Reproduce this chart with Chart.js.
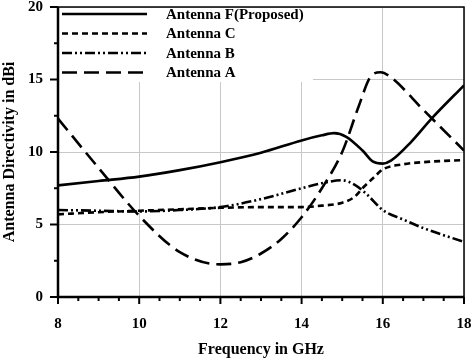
<!DOCTYPE html>
<html>
<head>
<meta charset="utf-8">
<script src="https://cdn.jsdelivr.net/npm/chart.js@4.4.1/dist/chart.umd.min.js"></script>
<style>
  body { margin: 0; background: #fff; }
  #chart { display: block; }
</style>
</head>
<body>
<canvas id="chart" width="474" height="361"></canvas>
<script>
// values
const freqF = [8, 9, 10, 11, 12, 13, 14, 14.5, 14.8, 15.1, 15.5, 15.75, 16, 16.2, 16.7, 17.2, 18];
const dirF = [7.7, 8.0, 8.3, 8.75, 9.3, 9.95, 10.8, 11.15, 11.3, 11.05, 10.1, 9.35, 9.2, 9.4, 10.7, 12.3, 14.6];

const freqC = [8, 9, 10, 11, 12, 13, 14, 14.5, 15, 15.3, 15.5, 15.8, 16, 16.5, 17, 18];
const dirC = [5.7, 5.85, 5.95, 6.05, 6.15, 6.2, 6.2, 6.3, 6.5, 6.9, 7.5, 8.3, 8.8, 9.15, 9.3, 9.45];

const freqB = [8, 9, 10, 11, 12, 13, 14, 14.5, 15, 15.3, 15.6, 16, 16.5, 17, 18];
const dirB = [6.0, 5.95, 5.9, 6.0, 6.2, 6.75, 7.5, 7.85, 8.05, 7.75, 7.1, 6.0, 5.35, 4.75, 3.8];

const freqA = [8, 9, 10, 11, 12, 12.5, 13, 13.5, 14, 14.5, 15, 15.4, 15.7, 15.95, 16.2, 17, 18];
const dirA = [12.3, 8.9, 5.6, 3.1, 2.25, 2.4, 3.0, 4.0, 5.5, 7.5, 10.0, 13.1, 15.2, 15.5, 15.15, 12.9, 10.1];

const seriesNames = ['Antenna F(Proposed)', 'Antenna C', 'Antenna B', 'Antenna A'];
const xTicks = [8, 10, 12, 14, 16, 18];
const yTicks = [0, 5, 10, 15, 20];

const serif = 'Liberation Serif, Times New Roman, serif';

function toPoints(xs, ys) {
  return xs.map((x, i) => ({ x: x, y: ys[i] }));
}

function makeSet(label, xs, ys, dash) {
  return {
    label: label,
    data: toPoints(xs, ys),
    borderColor: '#000',
    borderWidth: 2.6,
    borderDash: dash,
    pointRadius: 0,
    cubicInterpolationMode: 'monotone',
    fill: false
  };
}

// frame + major/minor tick marks like the original plot
const framePlugin = {
  id: 'frame',
  afterDraw(chart) {
    const { ctx, chartArea: a, scales } = chart;
    ctx.save();
    ctx.strokeStyle = '#000';
    ctx.lineWidth = 1.5;
    ctx.beginPath();
    ctx.moveTo(a.left, a.top);
    ctx.lineTo(a.right, a.top);
    ctx.lineTo(a.right, a.bottom);
    ctx.stroke();

    ctx.lineWidth = 2.5;
    ctx.beginPath();
    ctx.moveTo(a.left, a.top);
    ctx.lineTo(a.left, a.bottom);
    ctx.lineTo(a.right, a.bottom);
    ctx.stroke();

    ctx.lineWidth = 2;
    for (let v = 8; v <= 18.001; v += 0.5) {
      const px = scales.x.getPixelForValue(v);
      const len = (v % 2 === 0) ? 7 : 4;
      ctx.beginPath();
      ctx.moveTo(px, a.bottom);
      ctx.lineTo(px, a.bottom + len);
      ctx.stroke();
    }
    for (let v = 0; v <= 20.001; v += 2.5) {
      const py = scales.y.getPixelForValue(v);
      const len = (v % 5 === 0) ? 8 : 4;
      ctx.beginPath();
      ctx.moveTo(a.left, py);
      ctx.lineTo(a.left - len, py);
      ctx.stroke();
    }
    ctx.restore();
  }
};

// boxed legend in the upper left corner of the plot
const legendPlugin = {
  id: 'innerLegend',
  beforeDatasetsDraw(chart) {
    const { ctx, chartArea: a } = chart;
    ctx.save();
    ctx.fillStyle = '#fff';
    ctx.fillRect(a.left + 1, a.top + 1, 254, 74);
    chart.data.datasets.forEach((ds, i) => {
      const y = a.top + 7 + i * 19.5;
      ctx.strokeStyle = ds.borderColor;
      ctx.lineWidth = ds.borderWidth;
      ctx.setLineDash(ds.borderDash || []);
      ctx.beginPath();
      ctx.moveTo(a.left + 4, y);
      ctx.lineTo(a.left + 89, y);
      ctx.stroke();
      ctx.setLineDash([]);
      ctx.fillStyle = '#000';
      ctx.font = 'bold 15px ' + serif;
      ctx.textBaseline = 'middle';
      ctx.textAlign = 'left';
      ctx.fillText(ds.label, a.left + 108, y + 1);
    });
    ctx.restore();
  }
};

const ctx = document.getElementById('chart').getContext('2d');

new Chart(ctx, {
  type: 'line',
  data: {
    datasets: [
      makeSet(seriesNames[0], freqF, dirF, []),
      makeSet(seriesNames[1], freqC, dirC, [6, 4]),
      makeSet(seriesNames[2], freqB, dirB, [10, 3, 2, 3, 2, 3]),
      makeSet(seriesNames[3], freqA, dirA, [15, 7])
    ]
  },
  options: {
    responsive: false,
    animation: false,
    layout: { padding: { top: 7, right: 10, left: 0, bottom: 0 } },
    plugins: {
      legend: { display: false },
      tooltip: { enabled: false }
    },
    scales: {
      x: {
        type: 'linear',
        min: 8,
        max: 18,
        afterBuildTicks: s => { s.ticks = xTicks.map(v => ({ value: v })); },
        afterFit: s => {
          s.height = 64;
          s.paddingLeft = 0;
          s.paddingRight = 0;
        },
        ticks: {
          padding: 18,
          color: '#000',
          font: { family: serif, size: 15, weight: 'bold' }
        },
        grid: { color: '#c8c8c8', lineWidth: 1, drawTicks: false },
        border: { display: false },
        title: {
          display: true,
          text: 'Frequency in GHz',
          color: '#000',
          font: { family: serif, size: 16, weight: 'bold' },
          padding: { top: 0, bottom: 2 }
        }
      },
      y: {
        min: 0,
        max: 20,
        afterBuildTicks: s => { s.ticks = yTicks.map(v => ({ value: v })); },
        afterFit: s => {
          s.width = 58;
          s.paddingTop = 0;
          s.paddingBottom = 0;
        },
        ticks: {
          padding: 15,
          color: '#000',
          font: { family: serif, size: 15, weight: 'bold' }
        },
        grid: { color: '#c8c8c8', lineWidth: 1, drawTicks: false },
        border: { display: false },
        title: {
          display: true,
          text: 'Antenna Directivity in dBi',
          color: '#000',
          font: { family: serif, size: 16, weight: 'bold' },
          padding: 0
        }
      }
    }
  },
  plugins: [legendPlugin, framePlugin]
});
</script>
</body>
</html>
